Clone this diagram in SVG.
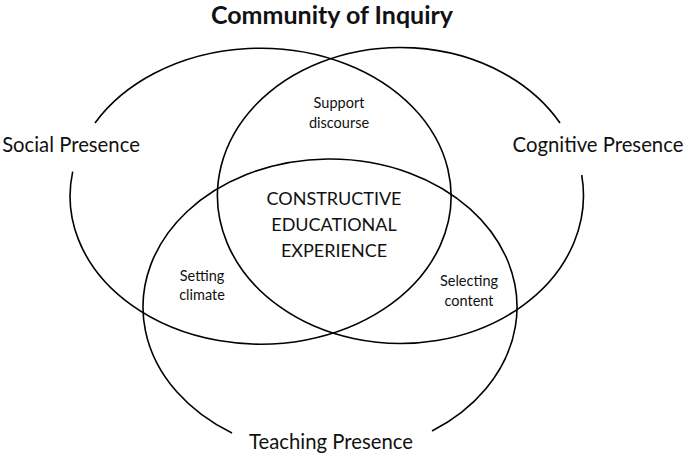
<svg xmlns="http://www.w3.org/2000/svg" width="685" height="458" viewBox="0 0 685 458">
<style>
.ring{fill:none;stroke:#000;stroke-width:1.6}
text{font-family:Lato,"Open Sans","Liberation Sans",sans-serif;fill:#111;text-anchor:middle}
.title{font-size:25px;font-weight:bold}
.big{font-size:20.3px}
.mid{font-size:18px}
.small{font-size:14.5px}
</style>
<rect width="685" height="458" fill="#fff"/>
<text class="title" x="332" y="24">Community of Inquiry</text>
<g id="social">
<path class="ring" d="M 72.7 171.7 A 190.5 148 0 1 0 95 123"/>
<text class="big" x="71" y="152">Social Presence</text>
</g>
<g id="cognitive">
<path class="ring" d="M 560 123 A 183 148 0 1 0 581.7 175"/>
<text class="big" x="598" y="152">Cognitive Presence</text>
</g>
<g id="teaching">
<path class="ring" d="M 232 433 A 187 148 0 1 1 432 431"/>
<text class="big" x="331" y="449">Teaching Presence</text>
</g>
<g id="support-discourse">
<text class="small" x="339" y="108">Support</text>
<text class="small" x="339" y="128">discourse</text>
</g>
<g id="setting-climate">
<text class="small" x="202" y="281">Setting</text>
<text class="small" x="202" y="300">climate</text>
</g>
<g id="selecting-content">
<text class="small" x="469" y="286">Selecting</text>
<text class="small" x="469" y="306">content</text>
</g>
<g id="constructive-experience">
<text class="mid" x="334" y="205">CONSTRUCTIVE</text>
<text class="mid" x="334" y="231">EDUCATIONAL</text>
<text class="mid" x="334" y="257">EXPERIENCE</text>
</g>
</svg>
